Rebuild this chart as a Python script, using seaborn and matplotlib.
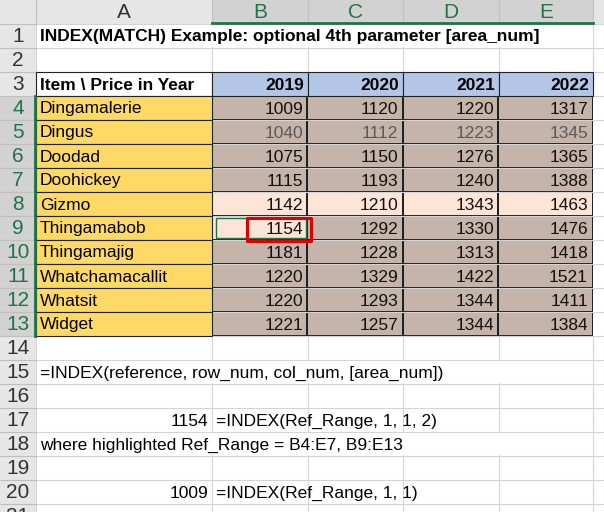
import numpy as np
import pandas as pd
import seaborn as sns
from matplotlib import pyplot as plt
from matplotlib.patches import Rectangle

items = ['Dingamalerie', 'Dingus', 'Doodad', 'Doohickey', 'Gizmo', 'Thingamabob',
         'Thingamajig', 'Whatchamacallit', 'Whatsit', 'Widget']
years = ['2019', '2020', '2021', '2022']
p2019 = [1009, 1040, 1075, 1115, 1142, 1154, 1181, 1220, 1220, 1221]
p2020 = [1120, 1112, 1150, 1193, 1210, 1292, 1228, 1329, 1293, 1257]
p2021 = [1220, 1223, 1276, 1240, 1343, 1330, 1313, 1422, 1344, 1344]
p2022 = [1317, 1345, 1365, 1388, 1463, 1476, 1418, 1521, 1411, 1384]
df = pd.DataFrame({'2019': p2019, '2020': p2020, '2021': p2021, '2022': p2022}, index=items)

# 0 = highlighted ref range (brown), 1 = not highlighted (peach)
hl = np.zeros((10, 4))
hl[4, :] = 1
hl[5, 0] = 1

col_x = [0, 36, 212, 308, 403, 499, 593, 604]
rh = 24
FONT = 'Liberation Sans'
FS = 12.5

fig = plt.figure(figsize=(6.04, 5.12), dpi=100)

# price block (drawn first, sits under the main axes)
hax = fig.add_axes([212 / 604, 1 - 336 / 512, (593 - 212) / 604, 240 / 512])
sns.heatmap(hl, ax=hax, cmap=['#c4b4a9', '#fce4d6'], cbar=False, linewidths=1.2,
            linecolor='#222222', xticklabels=False, yticklabels=False)
hax.set_zorder(1)

ax = fig.add_axes([0, 0, 1, 1])
ax.set_zorder(2)
ax.patch.set_alpha(0)
ax.set_xlim(0, 604)
ax.set_ylim(512, 0)
ax.axis('off')

def rect(x0, y0, x1, y1, fc, ec='none', lw=0.8, z=1):
    ax.add_patch(Rectangle((x0, y0), x1 - x0, y1 - y0, facecolor=fc, edgecolor=ec, lw=lw, zorder=z))

# gridlines (outside the price block)
for x in col_x[1:]:
    ax.plot([x, x], [0, 96], color='#d4d4d4', lw=0.8, zorder=0)
    ax.plot([x, x], [336, 512], color='#d4d4d4', lw=0.8, zorder=0)
for r in range(1, 22):
    ax.plot([0, 604], [r * rh, r * rh], color='#d4d4d4', lw=0.8, zorder=0)

# headers
rect(0, 0, 604, rh, '#e6e6e6', z=1)
rect(0, 0, 36, 512, '#e6e6e6', z=1)
rect(0, 4 * rh, 36, 14 * rh, '#d2d2d2', z=1)
rect(212, 0, 593, rh, '#d2d2d2', z=1)
ax.plot([212, 593], [rh - 1, rh - 1], color='#217346', lw=2, zorder=3)
ax.plot([35, 35], [4 * rh, 14 * rh], color='#217346', lw=2, zorder=3)
for i, c in enumerate('ABCDE'):
    ax.text((col_x[i + 1] + col_x[i + 2]) / 2, rh / 2 + 1, c, ha='center', va='center',
            fontsize=15, family=FONT, color='#217346' if i else '#333333', zorder=4)
for r in range(1, 22):
    ax.text(18, r * rh + rh / 2 + 1, str(r), ha='center', va='center', fontsize=15, family=FONT,
            color='#217346' if 4 <= r <= 13 else '#333333', zorder=4)
for x in col_x[1:-1]:
    ax.plot([x, x], [0, rh], color='#bfbfbf', lw=0.8, zorder=2)
for r in range(1, 22):
    ax.plot([0, 36], [r * rh, r * rh], color='#bfbfbf', lw=0.8, zorder=2)

def ytxt(r):
    return r * rh + rh / 2 + 1

# title
rect(37, rh + 1, 593, 2 * rh - 1, 'white', z=0.5)
ax.text(40, ytxt(1), 'INDEX(MATCH) Example: optional 4th parameter [area_num]', ha='left', va='center',
        fontsize=FS, family=FONT, weight='bold', zorder=4)

# header row 3
rect(36, 3 * rh, 212, 4 * rh, 'white', ec='#222222', z=2)
ax.text(40, ytxt(3), 'Item \\ Price in Year', ha='left', va='center', fontsize=FS, family=FONT,
        weight='bold', zorder=4)
for j, y in enumerate(years):
    rect(col_x[j + 2], 3 * rh, col_x[j + 3], 4 * rh, '#b4c6e7', ec='#222222', z=2)
    ax.text(col_x[j + 3] - 4, ytxt(3), y, ha='right', va='center', fontsize=FS, family=FONT,
            weight='bold', zorder=4)

# item column
for i, name in enumerate(items):
    r = 4 + i
    rect(36, r * rh, 212, (r + 1) * rh, '#ffd966', ec='#222222', z=2)
    ax.text(40, ytxt(r), name, ha='left', va='center', fontsize=FS, family=FONT, zorder=4)

for i in range(len(items)):
    for j, y in enumerate(years):
        ax.text(col_x[j + 3] - 5, ytxt(4 + i), str(df[y].iloc[i]), ha='right', va='center',
                fontsize=FS, family=FONT, color='#595959' if i == 1 else '#111111', zorder=4)
# red highlight and selection
rect(216, 9 * rh + 2, 306, 10 * rh - 2, 'none', ec='#217346', lw=1, z=5)
ax.add_patch(Rectangle((247, 218), 64, 23, facecolor='none', edgecolor='#e00000', lw=2.2,
                       joinstyle='round', zorder=6))

# formulas
for r in (15, 18):
    rect(37, r * rh + 1, 593, (r + 1) * rh - 1, 'white', z=0.5)
ax.text(40, ytxt(15), '=INDEX(reference, row_num, col_num, [area_num])', ha='left', va='center',
        fontsize=FS, family=FONT, zorder=4)
ax.text(208, ytxt(17), '1154', ha='right', va='center', fontsize=FS, family=FONT, zorder=4)
ax.text(216, ytxt(17), '=INDEX(Ref_Range, 1, 1, 2)', ha='left', va='center', fontsize=FS, family=FONT, zorder=4)
ax.text(40, ytxt(18), 'where highlighted Ref_Range = B4:E7, B9:E13', ha='left', va='center',
        fontsize=FS, family=FONT, zorder=4)
ax.text(208, ytxt(20), '1009', ha='right', va='center', fontsize=FS, family=FONT, zorder=4)
ax.text(216, ytxt(20), '=INDEX(Ref_Range, 1, 1)', ha='left', va='center', fontsize=FS, family=FONT, zorder=4)

fig.savefig('out.png', dpi=100)
